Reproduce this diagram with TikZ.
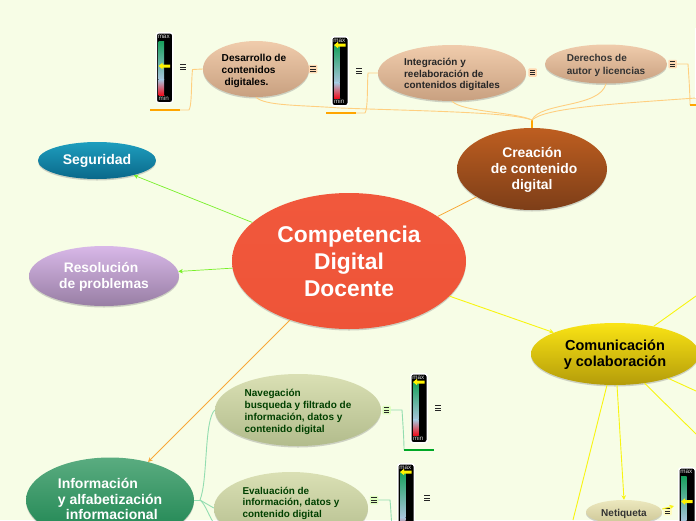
\documentclass[tikz,border=0pt]{standalone}
\usepackage{fontspec}
\setmainfont{Liberation Sans}
\usetikzlibrary{shapes.geometric,shadows,arrows.meta}
\definecolor{bgc}{HTML}{F7FDE6}
\definecolor{linkor}{HTML}{FFCF80}
\definecolor{linkorb}{HTML}{FFA500}
\definecolor{linkgr}{HTML}{93DDB0}
\definecolor{beamy}{HTML}{F8F510}
\definecolor{beamg}{HTML}{78F028}
\definecolor{beamo}{HTML}{F8A838}
\definecolor{gtop}{HTML}{17A05C}
\definecolor{gmid}{HTML}{A8C4DC}
\definecolor{gbot}{HTML}{F01020}
\newcommand{\dn}[1]{\rule{0pt}{#1pt}}
\tikzset{
  oval/.style={ellipse,inner sep=0pt,font=\bfseries,align=center,
    drop shadow={opacity=.35,shadow xshift=0pt,shadow yshift=-1.5pt}},
  size/.style 2 args={minimum width=#1pt,minimum height=#2pt},
  menubox/.style={fill=#1,inner sep=0pt,minimum size=8.5pt,rounded corners=1pt,
    path picture={\foreach \d in {-2.2,0,2.2}
      \draw[line width=.9pt,black!85] ([xshift=-2.6pt,yshift=\d pt]path picture bounding box.center) -- ++(5.2pt,0);}},
  markbox/.style={menubox=bgc},
  sublink/.style={line width=.9pt,linkor},
  underor/.style={linkorb,line width=2pt},
  arrowy/.style={-{Stealth[length=4.5pt,width=4.5pt]}},
  ybeam/.style={line width=.9pt,beamy},
  gbeam/.style={line width=.7pt,beamg},
  obeam/.style={line width=.8pt,beamo},
}
% name, left x, top y, height, arrow y offset
\newcommand{\gaugebar}[5]{%
  \node[draw=white,line width=1.5pt,fill=black,rounded corners=2.5pt,inner sep=0pt,
    minimum width=16.5pt,minimum height=#4pt,anchor=north west] (#1) at (#2,#3) {};
  \fill[top color=gtop,bottom color=gmid] (#2+3,#3+9) rectangle (#2+8.5,#3+#4*0.68);
  \fill[top color=gmid,bottom color=gbot] (#2+3,#3+#4*0.68) rectangle (#2+8.5,#3+#4-7);
  \node[text=white!85!black,font=\fontsize{6.3}{6.3}\selectfont,inner sep=0pt] at (#2+8.2,#3+4.5) {max};
  \node[text=white!85!black,font=\fontsize{6.3}{6.3}\selectfont,inner sep=0pt] at (#2+8.2,#3+#4-3.5) {min};
  \fill[yellow] (#2+3,#3+#5) -- (#2+7,#3+#5-3.2) -- (#2+7,#3+#5-1.5) -- (#2+14.5,#3+#5-1.5)
     -- (#2+14.5,#3+#5+1.5) -- (#2+7,#3+#5+1.5) -- (#2+7,#3+#5+3.2) -- cycle;
}
\begin{document}
\begin{tikzpicture}[x=1pt,y=-1pt]
\useasboundingbox (0,0) rectangle (696,520);
\clip (0,0) rectangle (696,520);
\fill[bgc] (0,0) rectangle (696,520);

% coordinates for free ends
\coordinate (f1) at (696,296);
\coordinate (f2) at (696,391);
\coordinate (f3) at (696,434);
\coordinate (f4) at (573,520);
\coordinate (f5) at (696,98);
\coordinate (f6) at (215,525);
\coordinate (f7) at (392,525);

% main nodes
\node[oval,size={234}{136},font=\bfseries\fontsize{22.8}{27}\selectfont,text=white,
  top color={rgb,255:red,241;green,88;blue,60},bottom color={rgb,255:red,238;green,84;blue,56}] (central) at (349,261) {Competencia\\Digital\hspace*{8pt}\\Docente};
\node[oval,size={150}{82},top color={rgb,255:red,190;green,94;blue,32},bottom color={rgb,255:red,125;green,62;blue,24},
  font=\bfseries\fontsize{13.9}{16.3}\selectfont,text=white] (crea) at (532,169) {\dn{12}Creación\\\hspace*{4pt}de contenido\\digital};
\node[oval,size={118}{37},top color={rgb,255:red,30;green,158;blue,190},bottom color={rgb,255:red,10;green,104;blue,138},
  font=\bfseries\fontsize{14}{14}\selectfont,text=white] (seg) at (97,160.5) {Seguridad};
\node[oval,size={150}{60},top color={rgb,255:red,216;green,184;blue,232},bottom color={rgb,255:red,152;green,126;blue,164},
  font=\bfseries\fontsize{13.8}{16.3}\selectfont,text=white] (res) at (104,276) {\dn{12}Resolución\hspace*{6pt}\\de problemas};
\node[oval,size={168}{62},top color={rgb,255:red,250;green,228;blue,20},bottom color={rgb,255:red,180;green,156;blue,10},
  font=\bfseries\fontsize{14.5}{16.5}\selectfont,text=black] (com) at (615,354) {\dn{12.4}Comunicación\\y colaboración};
\node[oval,size={168}{85},top color={rgb,255:red,90;green,172;blue,128},bottom color={rgb,255:red,26;green,130;blue,78},
  font=\bfseries\fontsize{14}{15.3}\selectfont,text=white,align=left] (inf) at (110,500) {Información\\ y alfabetización\\\hspace*{8pt}informacional\rule[-2pt]{0pt}{2pt}};

\node[oval,size={106}{56},top color={rgb,255:red,240;green,204;blue,172},bottom color={rgb,255:red,200;green,160;blue,128},
  font=\bfseries\fontsize{10.1}{12.2}\selectfont,align=left,text=black] (des) at (256,69) {\dn{11.3}Desarrollo de\hspace*{4pt}\\contenidos\\\hspace*{3pt}digitales.};
\node[oval,size={148}{56},top color={rgb,255:red,240;green,204;blue,172},bottom color={rgb,255:red,200;green,160;blue,128},
  font=\bfseries\fontsize{9.9}{11.6}\selectfont,align=left,text=black!85] (int) at (452,73) {\dn{10.3}Integración y\\reelaboración de\\contenidos digitales};
\node[oval,size={122}{39},top color={rgb,255:red,240;green,204;blue,172},bottom color={rgb,255:red,200;green,160;blue,128},
  font=\bfseries\fontsize{10}{12.8}\selectfont,align=left,text=black!80] (der) at (606,64) {\dn{10.3}Derechos de\\autor y licencias};

\node[oval,size={166}{72},top color={rgb,255:red,218;green,224;blue,180},bottom color={rgb,255:red,178;green,188;blue,140},
  font=\bfseries\fontsize{10}{12}\selectfont,align=left,text=green!25!black] (nav) at (298,410) {\dn{11.3}Navegación\\busqueda y filtrado de\hspace*{4pt}\\información, datos y\\contenido digital};
\node[oval,size={154}{72},top color={rgb,255:red,218;green,224;blue,180},bottom color={rgb,255:red,178;green,188;blue,140},
  font=\bfseries\fontsize{9.9}{11.7}\selectfont,align=left,text=green!25!black] (eva) at (291,508) {Evaluación de\\información, datos y\\contenido digital\\ };
\node[oval,size={76}{24},top color={rgb,255:red,236;green,232;blue,190},bottom color={rgb,255:red,205;green,198;blue,150},
  font=\bfseries\fontsize{10}{10}\selectfont,text=black!80] (net) at (624,512) {\dn{10.3}Netiqueta};

% menu icons
\node[menubox=orange!30] (mdes) at (313,69) {};
\node[menubox=orange!30] (mint) at (532.5,72.5) {};
\node[menubox=orange!30] (mder) at (672.5,64) {};
\node[menubox=green!50!yellow!25!white] (mnav) at (386.5,410) {};
\node[menubox=green!50!yellow!25!white] (meva) at (374,500) {};
\node[menubox=yellow!25!white] (mnet) at (667.5,511) {};
% gauge-side menu marks
\node[markbox] (k1) at (183,67) {};
\node[markbox] (k2) at (359,71) {};
\node[markbox] (k3) at (438,408) {};
\node[markbox] (k4) at (427,498) {};

% thick underlines as free coordinates
\coordinate (uoa) at (150,110); \coordinate (uob) at (180,110);
\coordinate (uta) at (326,113); \coordinate (utb) at (356,113);
\coordinate (uca) at (696,105); \coordinate (ucb) at (690,105);
\coordinate (uga) at (404,450); \coordinate (ugb) at (434,450);

% orange sublinks
\draw[sublink] (des.west) -- (192.5,69.5) .. controls (191,85) and (192,105) .. (189,110) -- (uob);
\draw[sublink] (int.west) -- (368,73) .. controls (367,90) and (368,108) .. (365,113) -- (utb);
\draw[sublink] (mder.east) -- (688,64) .. controls (689,78) and (690,95) .. (ucb);
\coordinate (hub) at (532,120);
\draw[linkorb,line width=1.2pt] (crea.north) -- (hub);
\draw[sublink] (hub) .. controls (510,112) and (420,111) .. (340,108) .. controls (300,105) and (265,106) .. (des.south);
\draw[sublink] (hub) .. controls (515,112) and (462,112) .. (int.south);
\draw[sublink] (hub) .. controls (540,102) and (600,108) .. (der.south);
\draw[sublink] (hub) .. controls (545,108) and (610,104) .. (f5);

% green sublinks
\coordinate (ghub) at (200,500);
\draw[linkgr,line width=.9pt] (inf.east) -- (ghub);
\draw[linkgr,line width=.9pt] (ghub) .. controls (208,480) and (204,420) .. (nav.west);
\draw[linkgr,line width=.9pt] (ghub) -- (eva.west);
\draw[linkgr,line width=.9pt] (ghub) .. controls (206,505) and (208,515) .. (f6);
\draw[linkgr,line width=.9pt] (mnav.east) -- (402,410) .. controls (403,425) and (404,440) .. (uga);
\draw[linkgr,line width=.9pt] (meva.east) -- (390,500) .. controls (391,510) and (391,518) .. (f7);

% thick underlines on top of their links
\draw[underor] (uoa) -- (uob);
\draw[underor] (uta) -- (utb);
\draw[underor] (ucb) -- (uca);
\draw[green!60!black!85!cyan,line width=2pt] (uga) -- (ugb);

% main links
\draw[obeam] (central) -- (crea);
\draw[gbeam,arrowy] (central) -- (seg);
\draw[gbeam,arrowy] (central) -- (res);
\draw[obeam,arrowy] (central) -- (inf);
\draw[ybeam,arrowy] (central) -- (com);
\draw[ybeam] (com) -- (f1);
\draw[ybeam] (com) -- (f2);
\draw[ybeam] (com) -- (f3);
\draw[ybeam] (607,385) -- (f4);
\draw[ybeam,arrowy] (617,385) -- (net.north);
\draw[ybeam,arrowy] (net.east) ++(0,-3) -- (674,506);

% gauges
\gaugebar{g1}{155.5}{32}{70}{34}
\gaugebar{g2}{331}{36}{69}{9}
\gaugebar{g3}{410}{373}{69}{9}
\gaugebar{g4}{397}{463}{80}{9}
\gaugebar{g5}{678}{467}{80}{34.5}
\draw[white,line width=1.5pt] (695.5,28) -- (695.5,98);
\end{tikzpicture}
\end{document}
